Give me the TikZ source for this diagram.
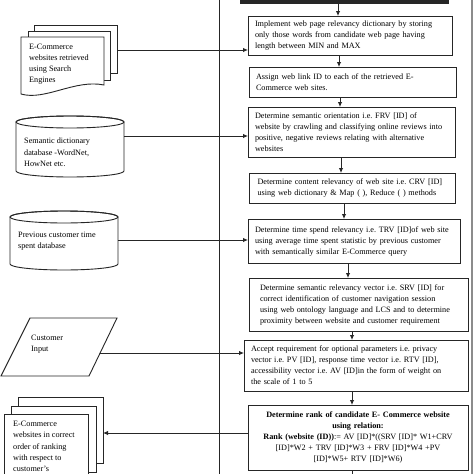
\documentclass[tikz,border=0pt]{standalone}
\usepackage{fontspec}
\setmainfont{Liberation Serif}
\usetikzlibrary{arrows.meta}
\frenchspacing
\begin{document}
\begin{tikzpicture}[x=1pt,y=-1pt,
  flowbox/.style={draw=black!85,line width=1pt,fill=white,anchor=north west,
    inner xsep=7pt,inner ysep=0pt,outer sep=0pt,align=left,
    font=\fontsize{8.2}{11}\selectfont},
  sidetext/.style={anchor=north west,inner sep=0pt,align=left,
    font=\fontsize{8.2}{11.2}\selectfont},
  link/.style={draw=black!85,line width=0.9pt,-{Latex[length=5pt,width=4.5pt]}},
  sheet/.style={draw=black!85,line width=0.9pt,fill=white}]
\path[use as bounding box,fill=white] (0,0) rectangle (474,474);

% swim lane borders
\draw[black!85,line width=0.7pt] (219,0) -- (219,474);
\draw[black!45,line width=1.4pt] (472,0) -- (472,474);

% process column
\node[fill=black!85,draw=black!85,minimum width=208pt,minimum height=10pt,
  anchor=south west,inner sep=0pt,outer sep=0pt] (top) at (240,3) {};
\node[flowbox,text width=190pt,minimum height=39pt] (b1) at (248,16)
  {Implement web page relevancy dictionary by storing\\
   only those words from candidate web page having\\
   length between MIN and MAX};
\node[flowbox,text width=193pt,minimum height=30pt] (b2) at (249,67)
  {Assign web link ID to each of the retrieved E-\\
   Commerce web sites.};
\node[flowbox,text width=193pt,minimum height=50pt] (b3) at (248,107)
  {Determine semantic orientation i.e. FRV [ID] of\\
   website by crawling and classifying online reviews into\\
   positive, negative reviews relating with alternative\\
   websites};
\node[flowbox,minimum height=30pt,inner xsep=8.5pt,text width=189pt] (b4) at (249,173)
  {Determine content relevancy of web site i.e. CRV [ID]\\
   using web dictionary \& Map ( ), Reduce ( ) methods};
\node[flowbox,text width=198pt,minimum height=44pt] (b5) at (248,219)
  {Determine time spend relevancy i.e. TRV [ID]of web site\\
   using average time spent statistic by previous customer\\
   with semantically similar E-Commerce query};
\node[flowbox,inner xsep=11pt,text width=197pt,minimum height=53pt] (b6) at (249,278)
  {Determine semantic relevancy vector i.e. SRV [ID] for\\
   correct identification of customer navigation session\\
   using web ontology language and LCS and to determine\\
   proximity between website and customer requirement};
\node[flowbox,text width=210pt,minimum height=51pt] (b7) at (244,340)
  {Accept requirement for optional parameters i.e. privacy\\
   vector i.e. PV [ID], response time vector i.e. RTV [ID],\\
   accessibility vector i.e. AV [ID]in the form of weight on\\
   the scale of 1 to 5};
\node[flowbox,align=center,text width=206pt,minimum height=65pt] (b8) at (248,405)
  {\textbf{Determine rank of candidate E- Commerce website}\\
   \textbf{using relation:}\\
   \textbf{Rank (website (ID))}:= AV [ID]*((SRV [ID]* W1+CRV\\
   {[ID]}*W2 + TRV [ID]*W3 + FRV [ID]*W4 +PV\\
   {[ID]}*W5+ RTV [ID]*W6)};

\foreach \a/\b/\x in {top/b1/338,b1/b2/339,b2/b3/340,b3/b4/341,b4/b5/344,b5/b6/348,b6/b7/352,b7/b8/352}
  \draw[link] (\a.south -| \x,0) -- (\b.north -| \x,0);
\coordinate (down) at (352,480);
\draw[black!85,line width=0.9pt] (b8.south -| down) -- (down);

% retrieved websites (document stack)
\path[sheet] (34,25) rectangle (117,73);
\path[sheet] (28,31) rectangle (110,80);
\path[sheet] (21,37) -- (104,37) -- (104,85) .. controls (75,79) and (45,101) .. (21,94) -- cycle;
\node[sidetext] (webs) at (29,43.5) {E-Commerce\\websites retrieved\\using Search\\Engines};

% semantic dictionary database
\path[sheet] (16,122) -- (16,171) arc[start angle=180,end angle=0,x radius=54,y radius=6]
  -- (124,122) arc[start angle=0,end angle=-180,x radius=54,y radius=6] -- cycle;
\draw[black!85,line width=0.9pt] (70,122) ellipse[x radius=54,y radius=6];
\node[sidetext] (dict) at (24,138) {Semantic dictionary\\database -WordNet,\\HowNet etc.};

% previous customer database
\path[sheet] (10,217) -- (10,264) arc[start angle=180,end angle=0,x radius=54,y radius=6]
  -- (118,217) arc[start angle=0,end angle=-180,x radius=54,y radius=6] -- cycle;
\draw[black!85,line width=0.9pt] (64,217) ellipse[x radius=54,y radius=6];
\node[sidetext] (prev) at (18,232) {Previous customer time\\spent database};

% customer input
\path[sheet] (30,318) -- (117,318) -- (89,376) -- (1,376) -- cycle;
\node[sidetext] (cust) at (31,335) {Customer\\Input};

% ranked websites (document stack)
\path[sheet] (18,397) rectangle (103,463);
\path[sheet] (11,406) rectangle (96,472);
\path[sheet] (4,414) rectangle (88,480);
\node[sidetext] (ranked) at (13,421) {E-Commerce\\websites in correct\\order of ranking\\with respect to\\customer's};

% connectors to the process column
\coordinate (websR) at (117,50);
\coordinate (dictR) at (124,136);
\coordinate (prevR) at (118,240);
\coordinate (custR) at (100,353);
\coordinate (rankedR) at (103,433);
\draw[link] (websR) -- (websR -| b1.west);
\draw[link] (dictR) -- (dictR -| b3.west);
\draw[link] (prevR) -- (prevR -| b5.west);
\draw[link] (custR) -- (custR -| b7.west);
\draw[link] (rankedR -| b8.west) -- (rankedR);
\end{tikzpicture}
\end{document}
